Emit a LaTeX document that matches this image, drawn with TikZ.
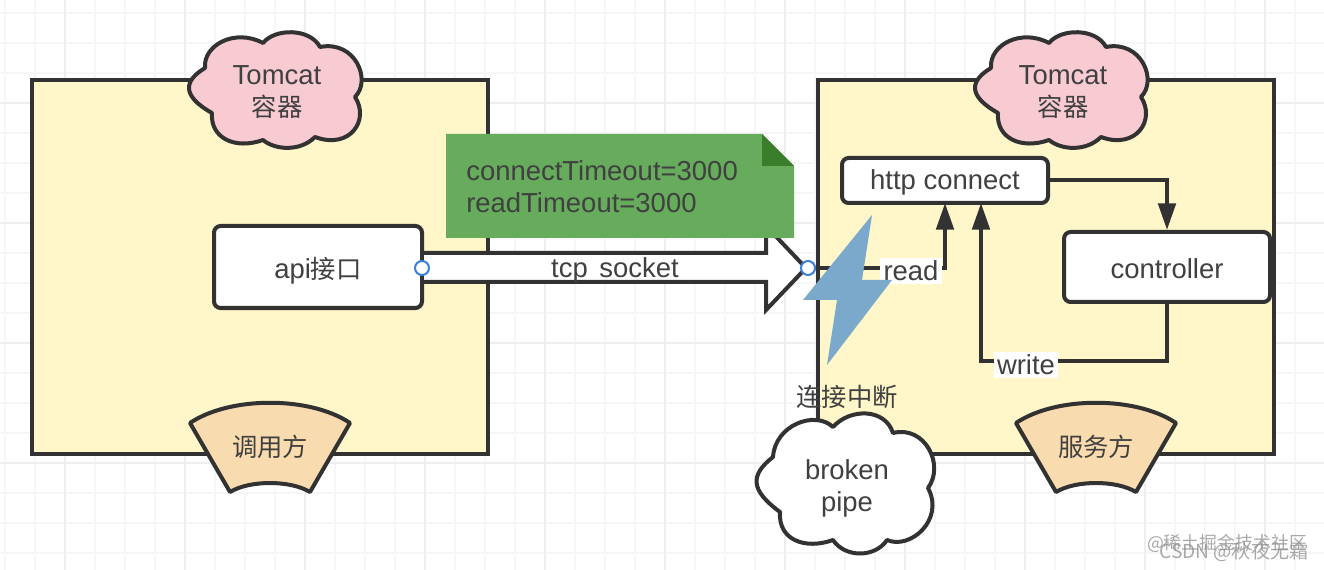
\documentclass[tikz,border=0pt]{standalone}
\usepackage{fontspec}
\setmainfont{Liberation Sans}
\newfontfamily\cjk{Noto Sans CJK SC}
\usetikzlibrary{arrows.meta}
\definecolor{lineC}{HTML}{323232}
\definecolor{textC}{HTML}{404040}
\definecolor{gridA}{HTML}{F6F6F8}
\definecolor{gridB}{HTML}{EEEEF1}
\definecolor{frameY}{HTML}{FFF6C9}
\definecolor{pinkC}{HTML}{F8CBD3}
\definecolor{fanC}{HTML}{F9DBB0}
\definecolor{noteC}{HTML}{66AC5C}
\definecolor{foldC}{HTML}{3A7D2A}
\definecolor{boltC}{HTML}{7BA9CB}
\definecolor{dotC}{HTML}{3B7FD6}
\newcommand{\tomcatcloud}{(205,68) .. controls (203,45) and (235,28) .. (263,43)
 .. controls (275,28) and (310,28) .. (320,47)
 .. controls (355,40) and (372,80) .. (355,97)
 .. controls (370,120) and (350,150) .. (315,137)
 .. controls (300,152) and (275,150) .. (263,140)
 .. controls (235,150) and (210,138) .. (212,113)
 .. controls (180,95) and (185,80) .. (205,68) -- cycle}
\newcommand{\fanshape}{(190,423) .. controls (230,396) and (310,396) .. (350,423)
 -- (310,492) .. controls (290,480) and (250,480) .. (230,492) -- cycle}
\tikzset{
  every node/.style={text=textC,font=\fontsize{20.6}{24}\selectfont,inner sep=0pt,align=center},
  ln/.style={draw=lineC,line width=3pt},
  tip/.style={-{Triangle[length=20pt,width=13pt]}},
  framebox/.style={ln,fill=frameY,line join=miter},
  cloudfill/.style={ln,fill=pinkC,line join=round},
  fan/.style={ln,fill=fanC,line join=round},
  whitebox/.style={ln,fill=white,rounded corners=5pt,text depth=0pt},
  conn/.style={ln,line join=miter},
  lbl/.style={fill=white,inner sep=2.5pt},
  dot/.style={circle,draw=dotC,fill=white,line width=1.5pt,minimum size=10.5pt},
  cn/.style={font=\cjk\fontsize{19}{24}\selectfont},
  markA/.style={text=black!45,font=\cjk\fontsize{13.4}{15}\selectfont,opacity=.75},
  markB/.style={text=black!45,font=\cjk\fontsize{14.4}{15}\selectfont,opacity=.75}
}
\begin{document}
\begin{tikzpicture}[x=0.75pt,y=-0.75pt]
\useasboundingbox (0,0) rectangle (1324,570);
% grid
\foreach \i in {0,...,43}{\pgfmathsetmacro\gx{5+30*\i}\draw[gridA,line width=1.2pt] (\gx,0) -- (\gx,570);}
\foreach \i in {0,...,18}{\pgfmathsetmacro\gy{13+30*\i}\draw[gridA,line width=1.2pt] (0,\gy) -- (1324,\gy);}
\foreach \i in {0,...,10}{\pgfmathsetmacro\gx{65+120*\i}\draw[gridB,line width=1.4pt] (\gx,0) -- (\gx,570);}
\foreach \i in {0,...,4}{\pgfmathsetmacro\gy{103+120*\i}\draw[gridB,line width=1.4pt] (0,\gy) -- (1324,\gy);}
% frames
\draw[framebox] (32,80) rectangle (488,454);
\draw[framebox] (818,80) rectangle (1274,454);
% clouds and fans
\draw[cloudfill] \tomcatcloud;
\node (tomcatL) at (277,92) {Tomcat\\{\cjk\fontsize{19}{24}\selectfont 容器}};
\begin{scope}[xshift=589.5pt]
\draw[cloudfill] \tomcatcloud;
\node (tomcatR) at (277,92) {Tomcat\\{\cjk\fontsize{19}{24}\selectfont 容器}};
\end{scope}
\draw[fan] \fanshape;
\node[cn] (caller) at (270,447) {调用方};
\begin{scope}[xshift=619.5pt]
\draw[fan] \fanshape;
\node[cn] (server) at (270,447) {服务方};
\end{scope}
% boxes
\node[whitebox,text height=17.5pt,minimum width=156pt,minimum height=61.5pt] (api) at (318,267) {api{\cjk\fontsize{19}{24}\selectfont 接口}};
\node[whitebox,text height=12.8pt,minimum width=154.5pt,minimum height=33.75pt] (http) at (945,180.5) {http connect};
\node[whitebox,text height=18pt,minimum width=154.5pt,minimum height=52.5pt] (ctrl) at (1167,267) {controller};
% block arrow
\coordinate (tipA) at (806,268);
\draw[ln,fill=white,line join=miter] (api.east |- 0,253) -- (766,253) -- (766,226) -- (tipA) -- (766,310) -- (766,282) -- (api.east |- 0,282);
\node (tcp) at (615,270) {tcp\hspace{3pt} socket};
% connectors
\coordinate (sockR) at (808,268);
\coordinate (readIn) at (945,203);
\coordinate (writeIn) at (981,203);
\draw[conn,tip] (http.east) -- (http.east -| ctrl.north) -- (ctrl.north);
\draw[conn,tip] (sockR) -- (945,268) -- (readIn);
\draw[conn,tip] (ctrl.south) -- (ctrl.south |- 0,361) -- (981,361) -- (writeIn);
\node[lbl] (readL) at (911,271) {read};
\node[lbl] (writeL) at (1026,365) {write};
% note
\fill[noteC] (446,134) -- (762,134) -- (794,166) -- (794,238) -- (446,238) -- cycle;
\fill[foldC] (762,134) -- (794,166) -- (762,166) -- cycle;
\node[anchor=west,align=left] (note) at (466,187) {connectTimeout=3000\\readTimeout=3000};
% dots
\node[dot] (dotL) at (422,268) {};
\node[dot] (dotR) at (808,268) {};
% bolt
\fill[boltC] (872,215) -- (803,300) -- (837,300) -- (827,365) -- (892,280) -- (862,280) -- cycle;
% broken pipe
\node[cn] (cut) at (847,397) {连接中断};
\draw[ln,fill=white,line join=round] (773,457) .. controls (775,425) and (815,410) .. (833,427)
 .. controls (850,408) and (885,408) .. (893,433)
 .. controls (925,425) and (945,465) .. (928,488)
 .. controls (945,520) and (910,550) .. (887,540)
 .. controls (875,558) and (845,558) .. (833,540)
 .. controls (805,550) and (778,540) .. (780,512)
 .. controls (750,490) and (750,475) .. (773,457) -- cycle;
\node (pipe) at (847,488) {broken\\pipe};
% watermark
\node[markA] (wm1) at (1227,543) {@稀土掘金技术社区};
\node[markB] (wm2) at (1234,552) {CSDN @秋夜无霜};
\end{tikzpicture}
\end{document}
